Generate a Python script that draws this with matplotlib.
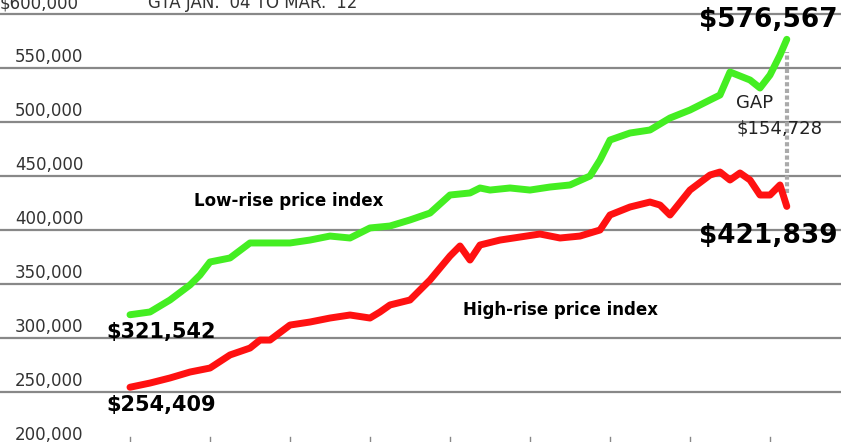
import matplotlib
matplotlib.use('Agg')
import matplotlib.pyplot as plt
import numpy as np

# x positions in fractional years
low_x = [2004.0, 2004.25, 2004.5, 2004.75, 2004.875, 2005.0, 2005.25, 2005.5, 2005.75, 2006.0,
         2006.25, 2006.5, 2006.75, 2007.0, 2007.25, 2007.5, 2007.75, 2008.0, 2008.25, 2008.375,
         2008.5, 2008.75, 2009.0, 2009.25, 2009.5, 2009.75, 2009.875, 2010.0, 2010.25, 2010.5,
         2010.75, 2011.0, 2011.25, 2011.375, 2011.5, 2011.75, 2011.875, 2012.0, 2012.125, 2012.21]
low_v = [321542, 324100, 335200, 349100, 358300, 370400, 374100, 388000, 388000, 388000,
         390700, 394400, 392600, 401900, 403700, 409300, 415700, 432400, 434300, 438900,
         437000, 438900, 437000, 439800, 441700, 450000, 464800, 483300, 489800, 492600,
         503700, 511100, 520400, 525000, 546300, 538900, 531500, 543500, 562000, 576567]

high_x = [2004.0, 2004.25, 2004.5, 2004.75, 2005.0, 2005.25, 2005.5, 2005.625, 2005.75, 2006.0,
          2006.25, 2006.5, 2006.75, 2007.0, 2007.125, 2007.25, 2007.5, 2007.75, 2008.0, 2008.125,
          2008.25, 2008.375, 2008.625, 2008.875, 2009.125, 2009.375, 2009.625, 2009.875, 2010.0,
          2010.25, 2010.5, 2010.625, 2010.75, 2011.0, 2011.25, 2011.375, 2011.5, 2011.625,
          2011.75, 2011.875, 2012.0, 2012.125, 2012.21]
high_v = [254409, 258300, 263000, 268500, 272200, 284300, 290700, 298100, 298100, 312000,
          314800, 318500, 321300, 318500, 324100, 330600, 335200, 353700, 375900, 385200,
          372200, 386100, 390700, 393500, 396300, 392600, 394400, 400000, 413900,
          421300, 425900, 423100, 413900, 437000, 450900, 453700, 446300, 452800,
          446300, 432400, 432400, 441700, 421839]

y_ticks = [250000, 300000, 350000, 400000, 450000, 500000, 550000, 600000]
year_ticks = list(range(2004, 2013))

fig = plt.figure(figsize=(8.41, 4.42), dpi=100)
ax = fig.add_axes([0, 0, 1, 1])
ax.set_xlim(2002.375, 2012.8875)
ax.set_ylim(203715, 612963)
ax.axis('off')

for v in y_ticks + [200000]:
    if v != 200000:
        ax.axhline(v, color='#888888', lw=1.6, zorder=1)
    lab = f'{v:,}' if v != 600000 else f'${v:,}'
    xx = 2002.375 + (15 if v != 600000 else 0) / 80
    ax.text(xx, v + 1500, lab, fontsize=12, color='#333333', va='bottom', ha='left')
ax.text(2002.375 + 148 / 80, 601500, "GTA JAN. '04 TO MAR. '12", fontsize=12,
        color='#333333', va='bottom', ha='left')

for t in year_ticks:
    ax.plot([t, t], [203715, 208500], color='#888888', lw=1)

ax.plot(low_x, low_v, color='#44ee22', lw=5, solid_capstyle='round', zorder=3)
ax.plot(high_x, high_v, color='#ff1111', lw=5, solid_capstyle='round', zorder=3)
ax.plot([low_x[-1], low_x[-1]], [high_v[-1] + 12000, low_v[-1] - 12000],
        color='#aaaaaa', lw=3, ls=(0, (1, 0.6)), zorder=2)

ax.text(2003.7, 306000, '$321,542', fontsize=15, fontweight='bold', ha='left', va='center')
ax.text(2003.7, 238000, '$254,409', fontsize=15, fontweight='bold', ha='left', va='center')
ax.text(2012.85, 594000, '$576,567', fontsize=19, fontweight='bold', ha='right', va='center')
ax.text(2012.85, 394000, '$421,839', fontsize=19, fontweight='bold', ha='right', va='center')
ax.text(2011.58, 518000, 'GAP', fontsize=13, ha='left', va='center', color='#222222')
ax.text(2011.58, 494000, '$154,728', fontsize=13, ha='left', va='center', color='#222222')
ax.text(2004.8, 427000, 'Low-rise price index', fontsize=12, fontweight='bold', ha='left', va='center')
ax.text(2008.16, 326000, 'High-rise price index', fontsize=12, fontweight='bold', ha='left', va='center')

fig.savefig('out.png', dpi=100)
